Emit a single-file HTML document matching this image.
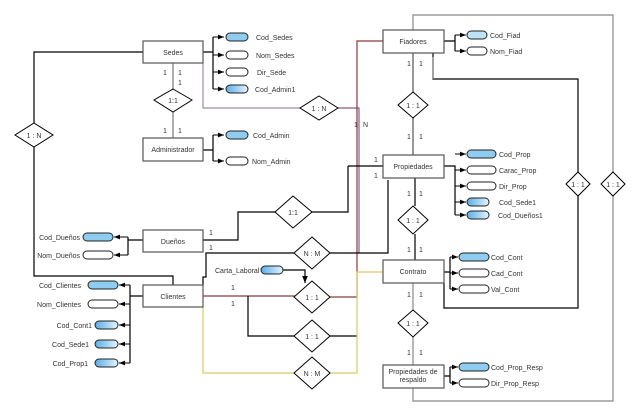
<!DOCTYPE html>
<html><head><meta charset="utf-8"><style>body{margin:0;background:#fff}svg{display:block}text{font-family:"Liberation Sans",sans-serif;font-size:7px;fill:#333}</style></head><body>
<svg width="640" height="418" viewBox="0 0 640 418" xmlns="http://www.w3.org/2000/svg">
<defs>
<linearGradient id="g" x1="0" x2="1"><stop offset="0" stop-color="#5aaee6"/><stop offset="1" stop-color="#e6f4fc"/></linearGradient>
<marker id="a" viewBox="0 0 10 10" refX="10" refY="5" markerWidth="6" markerHeight="6" orient="auto"><path d="M0,1 L10,5 L0,9z" fill="#000"/></marker>
</defs>
<g fill="none" stroke-width="1.2">
<!-- Sedes -->
<path d="M143,52 H34 V276 H173 V285" stroke="#000"/>
<path d="M203,52 H213 M213,37 V89" stroke="#000"/>
<path d="M203,63 V108 H300" stroke="#a08aa8"/>
<path d="M173,63 V89 M173,112 V138" stroke="#777"/>
<path d="M203,150 H213 V135 M213,150 V161" stroke="#000"/>
<!-- 1:N to x359 -->
<path d="M338,108 H359 V253" stroke="#8a5a8a"/>
<!-- Fiadores -->
<path d="M383,41 H357 V297 H330" stroke="#8b3a3a"/>
<path d="M413,30 V15 H613 V173 M613,196 V401 H413 V388" stroke="#888"/>
<path d="M433,53 V57 H433 V79 H578 V172 M578,196 V308 H444 V283" stroke="#000"/>
<path d="M433,57 V79" stroke="#888"/>
<path d="M413,53 V92 M413,118 V155" stroke="#555"/>
<path d="M444,41 H455 V35 M455,41 V51" stroke="#000"/>
<!-- Propiedades -->
<path d="M444,166 H455 V215" stroke="#000"/>
<path d="M348,166 H383 M348,166 V212 H312" stroke="#000"/>
<path d="M415,178 V206 M415,234 V260" stroke="#000"/>
<!-- Duenos -->
<path d="M203,240 H238 V212 H275" stroke="#000"/>
<path d="M143,240 H128 V237 M128,240 V255" stroke="#000"/>
<!-- N:M -->
<path d="M294,253 H206 V277 H203 V285" stroke="#000"/>
<path d="M330,253 H388 V180" stroke="#000"/>
<!-- Clientes -->
<path d="M143,296 H130 M130,285 V363" stroke="#000"/>
<path d="M203,296 H295" stroke="#8b3a3a"/>
<path d="M248,296 V336 H295 M330,336 H357" stroke="#000"/>
<path d="M203,307 V373 H295 M330,373 H357 V272 H383" stroke="#e0c860"/>
<path d="M283,270 H305 V283" stroke="#000" marker-end="url(#a)"/>
<!-- Contrato -->
<path d="M444,272 H450 V257 M450,272 V289" stroke="#000"/>
<path d="M413,283 V310 M413,337 V365" stroke="#888"/>
<path d="M444,376 H450 V367 M450,376 V383" stroke="#000"/>
</g>
<g stroke="#000" stroke-width="1" fill="none">
<path d="M213,37 H224" marker-end="url(#a)"/><path d="M213,55 H224" marker-end="url(#a)"/><path d="M213,72 H224" marker-end="url(#a)"/><path d="M213,89 H224" marker-end="url(#a)"/>
<path d="M213,135 H224" marker-end="url(#a)"/><path d="M213,161 H224" marker-end="url(#a)"/>
<path d="M455,35 H466" marker-end="url(#a)"/><path d="M455,51 H466" marker-end="url(#a)"/>
<path d="M455,154 H466" marker-end="url(#a)"/><path d="M455,170 H466" marker-end="url(#a)"/><path d="M455,186 H466" marker-end="url(#a)"/><path d="M455,202 H466" marker-end="url(#a)"/><path d="M455,215 H466" marker-end="url(#a)"/>
<path d="M450,257 H458" marker-end="url(#a)"/><path d="M450,273 H458" marker-end="url(#a)"/><path d="M450,289 H458" marker-end="url(#a)"/>
<path d="M450,367 H458" marker-end="url(#a)"/><path d="M450,383 H458" marker-end="url(#a)"/>
<path d="M128,237 H114" marker-end="url(#a)"/><path d="M128,255 H114" marker-end="url(#a)"/>
<path d="M130,285 H119" marker-end="url(#a)"/><path d="M130,304 H119" marker-end="url(#a)"/><path d="M130,325 H119" marker-end="url(#a)"/><path d="M130,344 H119" marker-end="url(#a)"/><path d="M130,363 H119" marker-end="url(#a)"/>
</g>
<!-- ellipses -->
<g stroke="#222" stroke-width="1">
<rect x="226" y="33" width="22" height="8" rx="4" fill="#8ecdf0"/>
<rect x="226" y="51" width="22" height="8" rx="4" fill="#fff"/>
<rect x="226" y="68" width="22" height="8" rx="4" fill="#fff"/>
<rect x="226" y="85" width="22" height="8" rx="4" fill="url(#g)"/>
<rect x="226" y="131" width="22" height="8" rx="4" fill="#8ecdf0"/>
<rect x="226" y="157" width="22" height="8" rx="4" fill="#fff"/>
<rect x="467" y="31" width="20" height="8" rx="4" fill="#bde3f6"/>
<rect x="467" y="47" width="20" height="8" rx="4" fill="#fff"/>
<rect x="467" y="150" width="29" height="8" rx="4" fill="#8ecdf0"/>
<rect x="467" y="166" width="29" height="8" rx="4" fill="#fff"/>
<rect x="467" y="182" width="29" height="8" rx="4" fill="#fff"/>
<rect x="467" y="198" width="22" height="8" rx="4" fill="url(#g)"/>
<rect x="467" y="211" width="22" height="8" rx="4" fill="url(#g)"/>
<rect x="459" y="253" width="30" height="8" rx="4" fill="#8ecdf0"/>
<rect x="459" y="269" width="30" height="8" rx="4" fill="#fff"/>
<rect x="459" y="285" width="30" height="8" rx="4" fill="#fff"/>
<rect x="459" y="363" width="30" height="8" rx="4" fill="#8ecdf0"/>
<rect x="459" y="379" width="30" height="8" rx="4" fill="#fff"/>
<rect x="83" y="233" width="30" height="8" rx="4" fill="#8ecdf0"/>
<rect x="83" y="251" width="30" height="8" rx="4" fill="#fff"/>
<rect x="88" y="281" width="30" height="8" rx="4" fill="#8ecdf0"/>
<rect x="88" y="300" width="30" height="8" rx="4" fill="#fff"/>
<rect x="95" y="321" width="23" height="8" rx="4" fill="url(#g)"/>
<rect x="95" y="340" width="23" height="8" rx="4" fill="url(#g)"/>
<rect x="95" y="359" width="23" height="8" rx="4" fill="url(#g)"/>
<rect x="261" y="266" width="22" height="8" rx="4" fill="url(#g)"/>
</g>
<!-- boxes -->
<g fill="#fff" stroke="#555" stroke-width="1.2">
<rect x="143" y="41" width="60" height="22"/>
<rect x="143" y="138" width="60" height="23"/>
<rect x="383" y="30" width="61" height="23"/>
<rect x="383" y="155" width="61" height="23"/>
<rect x="383" y="260" width="61" height="23"/>
<rect x="383" y="365" width="61" height="23"/>
<rect x="143" y="230" width="60" height="22"/>
<rect x="143" y="285" width="60" height="22"/>
</g>
<!-- diamonds -->
<g fill="#fff" stroke="#000" stroke-width="1">
<path d="M173,89 L192,100 L173,112 L154,100z"/>
<path d="M34,123 L53,135 L34,147 L15,135z"/>
<path d="M319,96 L338,108 L319,120 L300,108z"/>
<path d="M413,92 L428,105 L413,118 L398,105z"/>
<path d="M413,206 L428,220 L413,234 L398,220z"/>
<path d="M413,310 L428,323 L413,337 L398,323z"/>
<path d="M578,172 L590,184 L578,196 L566,184z"/>
<path d="M613,172 L625,184 L613,196 L601,184z"/>
<path d="M293,196 L312,212 L293,228 L275,212z"/>
<path d="M312,237 L330,253 L312,269 L294,253z"/>
<path d="M312,281 L330,297 L312,313 L294,297z"/>
<path d="M312,320 L330,336 L312,352 L294,336z"/>
<path d="M312,357 L330,373 L312,389 L294,373z"/>
</g>
<g text-anchor="middle">
<text x="173" y="55">Sedes</text><text x="173" y="152">Administrador</text>
<text x="413" y="44">Fiadores</text><text x="413" y="169">Propiedades</text>
<text x="413" y="274">Contrato</text><text x="413" y="374">Propiedades de</text><text x="413" y="382">respaldo</text>
<text x="173" y="244">Dueños</text><text x="173" y="299">Clientes</text>
<text x="173" y="103">1:1</text><text x="34" y="138">1 : N</text><text x="319" y="111">1 : N</text>
<text x="413" y="108">1 : 1</text><text x="413" y="223">1 : 1</text><text x="413" y="326">1 : 1</text>
<text x="578" y="187">1 : 1</text><text x="613" y="187">1 : 1</text>
<text x="293" y="215">1:1</text><text x="312" y="256">N : M</text><text x="312" y="300">1 : 1</text><text x="312" y="339">1 : 1</text><text x="312" y="376">N : M</text>
</g>
<g>
<text x="256" y="40">Cod_Sedes</text><text x="256" y="58">Nom_Sedes</text><text x="257" y="75">Dir_Sede</text><text x="255" y="92">Cod_Admin1</text>
<text x="253" y="138">Cod_Admin</text><text x="252" y="164">Nom_Admin</text>
<text x="490" y="38">Cod_Fiad</text><text x="490" y="54">Nom_Fiad</text>
<text x="499" y="157">Cod_Prop</text><text x="499" y="173">Carac_Prop</text><text x="499" y="189">Dir_Prop</text><text x="499" y="205">Cod_Sede1</text><text x="498" y="218">Cod_Dueños1</text>
<text x="491" y="260">Cod_Cont</text><text x="491" y="276">Cad_Cont</text><text x="491" y="292">Val_Cont</text>
<text x="491" y="370">Cod_Prop_Resp</text><text x="491" y="386">Dir_Prop_Resp</text>
<text x="215" y="273">Carta_Laboral</text>
</g>
<g text-anchor="end">
<text x="80" y="240">Cod_Dueños</text><text x="80" y="258">Nom_Dueños</text>
<text x="81" y="288">Cod_Clientes</text><text x="81" y="307">Nom_Clientes</text>
<text x="92" y="328">Cod_Cont1</text><text x="89" y="347">Cod_Sede1</text><text x="88" y="366">Cod_Prop1</text>
</g>
<g>
<text x="163" y="75">1</text><text x="178" y="75">1</text><text x="178" y="85">1</text>
<text x="163" y="133">1</text><text x="178" y="133">1</text>
<text x="354" y="127">1</text><text x="363" y="127">N</text>
<text x="407" y="66">1</text><text x="419" y="66">1</text>
<text x="407" y="139">1</text><text x="419" y="139">1</text>
<text x="374" y="162">1</text><text x="374" y="178">1</text>
<text x="407" y="196">1</text><text x="419" y="196">1</text>
<text x="407" y="252">1</text><text x="419" y="252">1</text>
<text x="407" y="297">1</text><text x="419" y="297">1</text>
<text x="407" y="355">1</text><text x="419" y="355">1</text>
<text x="209" y="235">1</text><text x="209" y="250">1</text>
<text x="231" y="290">1</text><text x="231" y="306">1</text>
</g>
</svg>
</body></html>
